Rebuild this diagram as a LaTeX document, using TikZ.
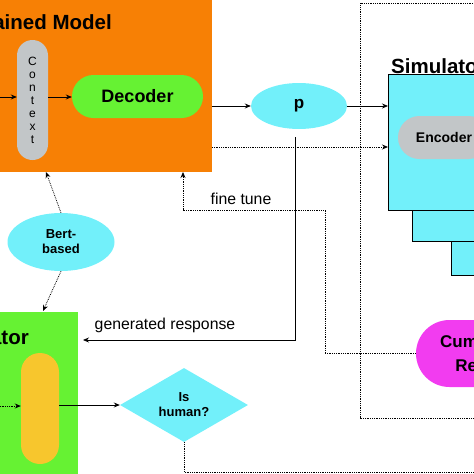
\documentclass[tikz,border=0pt]{standalone}
\usepackage{fontspec}
\setmainfont{Liberation Sans}
\usetikzlibrary{arrows.meta, positioning, shapes.geometric}

\definecolor{naranja}{HTML}{F78005}
\definecolor{verde}{HTML}{66F233}
\definecolor{cian}{HTML}{72F0FA}
\definecolor{gris}{HTML}{C2C6C8}
\definecolor{magenta2}{HTML}{F23CF0}
\definecolor{amarillo}{HTML}{F7C62D}

\begin{document}
\begin{tikzpicture}[x=1pt, y=-1pt,
    every node/.style={inner sep=0pt, font=\bfseries},
    title/.style={font=\bfseries\fontsize{20.5}{24}\selectfont},
    simbox/.style={draw=black, line width=1pt, fill=cian},
    pill/.style={fill=#1, rounded corners=19pt},
    edge/.style={-{Stealth[length=6pt, width=5pt]}, line width=0.8pt},
    dotedge/.style={edge, densely dotted},
    dotline/.style={line width=0.8pt, densely dotted}
]
\useasboundingbox (0,0) rectangle (474,474);
\clip (0,0) rectangle (474,474);

% Cajas
\node[fill=naranja, minimum width=232pt, minimum height=190pt, anchor=south east] (pretrained) at (212,172) {};
\node[title, anchor=east] (pretitle) at (112,22) {Pretrained Model};
\node[fill=verde, minimum width=100pt, minimum height=170pt, anchor=north east] (disc) at (78,312) {};
\node[title, anchor=east] (disctitle) at (29,337) {Discriminator};

\draw[dotline] (500,3) -| (360,418) -- (500,418);
\draw[simbox] (451,200) rectangle (500,275);
\draw[simbox] (412,190) rectangle (500,241);
\node[simbox, minimum width=130pt, minimum height=136pt, anchor=north west] (sim) at (388,74) {};
\node[title, anchor=west] (simtitle) at (391,66) {Simulator};

% Nodos
\node[pill=gris, minimum width=31pt, minimum height=120pt, rounded corners=15.5pt,
      align=center, font=\fontsize{12}{13}\selectfont] (context) at (32.5,100) {C\\o\\n\\t\\e\\x\\t};
\node[pill=verde, minimum width=131pt, minimum height=43pt, rounded corners=21.5pt,
      font=\bfseries\fontsize{18}{20}\selectfont] (decoder) at (137.5,96.5) {Decoder};
\node[ellipse, fill=cian, minimum width=96pt, minimum height=46pt,
      font=\bfseries\fontsize{17}{20}\selectfont] (p) at (299,106) {p};
\node[pill=gris, minimum width=92pt, minimum height=43pt, rounded corners=21.5pt,
      font=\bfseries\fontsize{14}{16}\selectfont] (encoder) at (444,137.5) {Encoder};
\node[ellipse, fill=cian, minimum width=107pt, minimum height=58pt, align=center,
      font=\bfseries\fontsize{13}{15}\selectfont] (bert) at (61,242) {Bert-\\based};
\node[pill=amarillo, minimum width=38pt, minimum height=111pt] (yellow) at (40,408.5) {};
\node[diamond, fill=cian, aspect=1.73, minimum width=128pt, minimum height=74pt, align=center,
      font=\bfseries\fontsize{13}{15}\selectfont] (human) at (184,405) {Is\\human?};
\node[pill=magenta2, minimum width=140pt, minimum height=67pt, rounded corners=33.5pt, align=center,
      font=\bfseries\fontsize{17}{24}\selectfont] (cum) at (486,353.5) {Cumulative\\Reward};

% Puntos auxiliares
\coordinate (ctxin) at (-2,97);
\coordinate (discin) at (-2,406);
\coordinate (tap) at (212,147);
\coordinate (pbot) at (46,172);
\coordinate (dtop) at (43,311);
\coordinate (gentop) at (295,137);
\coordinate (gencorner) at (295,340);
\coordinate (ftcorner) at (325,210);
\coordinate (ftup) at (183,172);
\coordinate (hend) at (480,472);

% Flechas
\draw[edge] (ctxin) -- (ctxin -| context.west);
\draw[edge] (context.east |- ctxin) -- (decoder.west |- ctxin);
\draw[edge] (pretrained.east |- p) -- (p.west);
\draw[edge] (p.east) -- (p -| sim.west);
\draw[dotedge] (tap) -- (tap -| sim.west);

\draw[dotedge] (bert.north) -- (pbot);
\draw[dotedge] (bert.south) -- (dtop);

\draw[edge] (gentop) -- (gencorner) -- ([xshift=5pt]gencorner -| disc.east);
\node[font=\fontsize{15.8}{18}\selectfont, anchor=base] (genlabel) at (165,329) {generated response};

\draw[dotedge] (cum.west) -| (ftcorner) -- (ftcorner -| ftup) -- (ftup);
\node[font=\fontsize{15.8}{18}\selectfont, anchor=base] (ftlabel) at (241,204) {fine tune};

\draw[dotedge] (discin) -- (discin -| yellow.west);
\draw[edge] (yellow.east |- human) -- (human.west);
\draw[dotline] (human.south) |- (hend);

\end{tikzpicture}
\end{document}
